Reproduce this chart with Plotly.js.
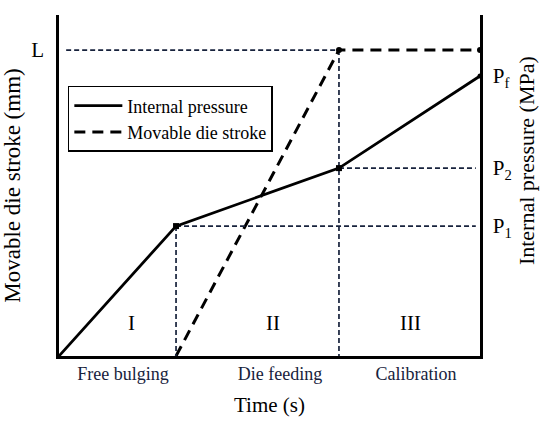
<!DOCTYPE html>
<html>
<head>
<meta charset="utf-8">
<script src="https://cdn.plot.ly/plotly-3.0.1.min.js"></script>
<style>
  body { margin: 0; background: #fff; }
  #chart { width: 550px; height: 429px; }
</style>
</head>
<body>
<div id="chart"></div>
<script>
// stage boundaries on the time axis (arbitrary units, 0..10)
const stageTimes = [0, 2.78, 6.65, 10];
// internal pressure levels at each boundary (0, P1, P2, Pf)
const pressureValues = [0, 3.81, 5.51, 8.21];
// movable die stroke: starts at end of free bulging, reaches L at end of die feeding
const strokeTimes = [2.78, 6.65, 10];
const strokeValues = [0, 8.97, 8.97];
const strokeL = 8.97;

const pressureTicks = ['P<sub>1</sub>', 'P<sub>2</sub>', 'P<sub>f</sub>'];
const stageNames = ['Free bulging', 'Die feeding', 'Calibration'];
const stageLabelPos = [1.52, 5.25, 8.48];
const stageNumerals = ['I', 'II', 'III'];
const numeralPos = [1.73, 5.08, 8.34];

const serif = '"Liberation Serif", "Times New Roman", serif';
const navy = '#17223c';

const t1 = stageTimes[1], t2 = stageTimes[2], tEnd = stageTimes[3];
const P1 = pressureValues[1], P2 = pressureValues[2], Pf = pressureValues[3];

function guide(x, y, axis) {
  return {
    x: x, y: y, yaxis: axis, mode: 'lines', showlegend: false, hoverinfo: 'skip',
    line: { color: navy, width: 1.7, dash: '5px,3px' }
  };
}

const traces = [
  guide([0.17, t2], [strokeL, strokeL], 'y'),
  guide([t1, t1], [P1, 0], 'y2'),
  guide([t1, tEnd - 0.1], [P1, P1], 'y2'),
  guide([t2, t2], [strokeL, 0], 'y'),
  guide([t2, tEnd - 0.1], [P2, P2], 'y2'),
  {
    x: stageTimes, y: pressureValues, yaxis: 'y2', name: 'Internal pressure',
    mode: 'lines', line: { color: '#000', width: 2.8 }
  },
  {
    x: strokeTimes, y: strokeValues, yaxis: 'y', name: 'Movable die stroke',
    mode: 'lines', line: { color: '#000', width: 3, dash: '11px,7px' }
  },
  {
    x: [t1, t2], y: [P1, P2], yaxis: 'y2', mode: 'markers', showlegend: false,
    marker: { symbol: 'square', size: 6, color: '#000' }
  },
  {
    x: [t2, tEnd], y: [strokeL, strokeL], yaxis: 'y', mode: 'markers', showlegend: false,
    marker: { symbol: 'circle', size: 6, color: '#000' }
  },
  {
    x: [tEnd], y: [Pf], yaxis: 'y2', mode: 'markers', showlegend: false,
    marker: { symbol: 'circle', size: 5, color: '#000' }
  }
];

const annotations = stageNumerals.map((s, i) => ({
  x: numeralPos[i], y: 0.97, xref: 'x', yref: 'y', text: s, showarrow: false,
  font: { family: serif, size: 21, color: '#000' }
}));
// right-hand title sits a bit above the middle in the original
annotations.push({
  x: 1.112, y: 0.572, xref: 'paper', yref: 'paper', text: 'Internal pressure (MPa)',
  textangle: -90, showarrow: false, xanchor: 'center', yanchor: 'middle',
  font: { family: serif, size: 22, color: '#000' }
});

const layout = {
  width: 550, height: 429,
  margin: { l: 59, r: 70, t: 15, b: 73 },
  paper_bgcolor: '#fff', plot_bgcolor: '#fff',
  font: { family: serif, color: '#000' },
  showlegend: true,
  legend: {
    x: 0.021, y: 0.792, xanchor: 'left', yanchor: 'top',
    bgcolor: '#fff', bordercolor: '#000', borderwidth: 1.5,
    font: { family: serif, size: 18, color: '#000' },
    itemwidth: 48, tracegroupgap: 0
  },
  xaxis: {
    range: [0, 10], showgrid: false, zeroline: false,
    showline: true, linecolor: '#000', linewidth: 2.6,
    tickmode: 'array', tickvals: stageLabelPos, ticktext: stageNames,
    ticks: '', ticklabelstandoff: 0,
    tickfont: { family: serif, size: 18, color: navy },
    title: { text: 'Time (s)', font: { family: serif, size: 21, color: '#000' }, standoff: 14 }
  },
  yaxis: {
    range: [0, 10], showgrid: false, zeroline: false,
    showline: true, linecolor: '#000', linewidth: 2.6,
    tickmode: 'array', tickvals: [strokeL], ticktext: ['L'],
    ticks: '', ticklabelstandoff: 8,
    tickfont: { family: serif, size: 21, color: '#000' },
    title: { text: 'Movable die stroke (mm)', font: { family: serif, size: 23, color: '#000' }, standoff: 6 }
  },
  yaxis2: {
    range: [0, 10], overlaying: 'y', side: 'right', showgrid: false, zeroline: false,
    showline: true, linecolor: '#000', linewidth: 2.6,
    tickmode: 'array', tickvals: [P1, P2, Pf], ticktext: pressureTicks,
    ticks: '', ticklabelstandoff: 6,
    tickfont: { family: serif, size: 21, color: '#000' }
  },
  annotations: annotations
};

Plotly.newPlot('chart', traces, layout, { displayModeBar: false, staticPlot: true });
</script>
</body>
</html>
